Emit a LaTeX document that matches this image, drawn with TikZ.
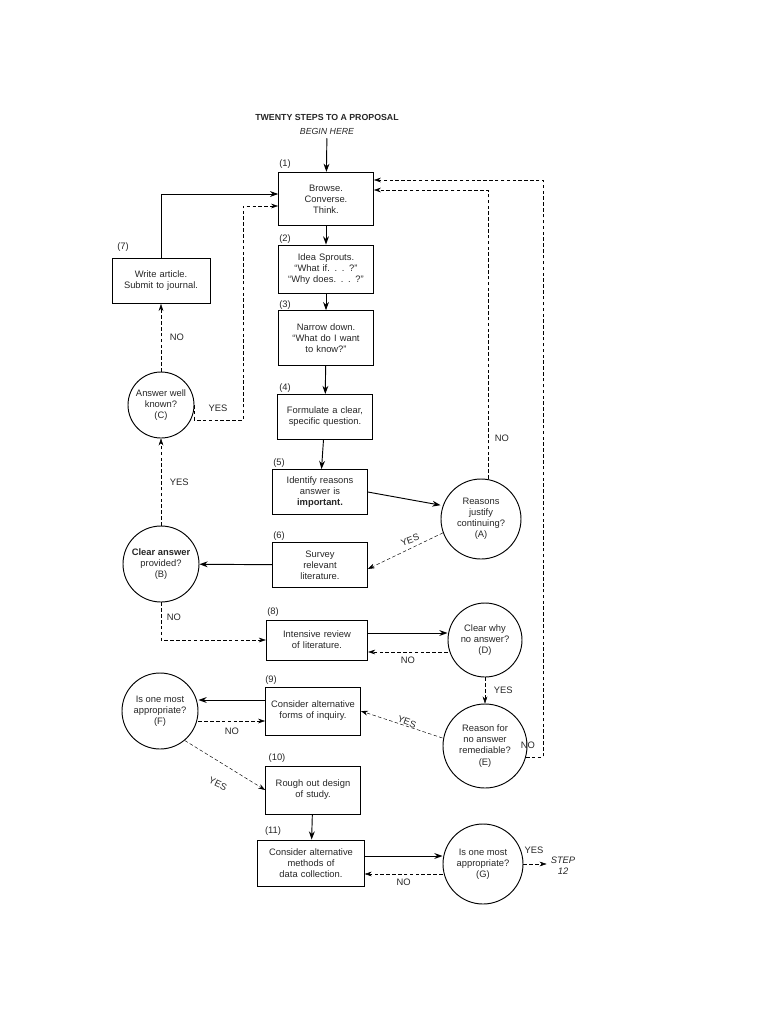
\documentclass[tikz,border=0pt]{standalone}
\usepackage{fontspec}
\setmainfont{Liberation Sans}
\usetikzlibrary{arrows.meta,calc}
\begin{document}
\begin{tikzpicture}[x=0.03cm,y=-0.03cm,
  every node/.style={font=\fontsize{8}{9.5}\selectfont,text=black!85},
  box/.style={draw,thick,align=center,inner sep=2pt},
  circ/.style={draw,thick,circle,align=center,inner sep=0pt},
  lab/.style={font=\fontsize{8}{9.5}\selectfont},
  s/.style={thick,-{Stealth[length=7pt,width=5pt]}},
  d/.style={thin,densely dashed,-{Stealth[length=6pt,width=4pt]}}]
\useasboundingbox (0,0) rectangle (768,1024);
\node[font=\fontsize{7.5}{9}\selectfont\bfseries] (title) at (327,117) {TWENTY STEPS TO A PROPOSAL};
\node[font=\fontsize{7.5}{9}\selectfont\itshape] (begin) at (327,131) {BEGIN HERE};
\node[box,text width=2.7cm,minimum height=1.6cm] (b1) at (326,199) {Browse.\\Converse.\\Think.};
\node[box,text width=2.7cm,minimum height=1.44cm] (b2) at (326,269) {Idea Sprouts.\\``What if. . . ?''\\``Why does. . . ?''};
\node[box,text width=2.7cm,minimum height=1.64cm] (b3) at (326,338) {Narrow down.\\``What do I want\\to know?''};
\node[box,text width=2.7cm,minimum height=1.35cm] (b4) at (325,417) {Formulate a clear,\\specific question.};
\node[box,text width=2.7cm,minimum height=1.35cm] (b5) at (320,492) {Identify reasons\\answer is\\\textbf{important.}};
\node[box,text width=2.7cm,minimum height=1.35cm] (b6) at (320,565) {Survey\\relevant\\literature.};
\node[box,text width=2.9cm,minimum height=1.2cm] (b8) at (317,640) {Intensive review\\of literature.};
\node[box,text width=2.7cm,minimum height=1.44cm] (b9) at (313,711) {Consider alternative\\forms of inquiry.};
\node[box,text width=2.7cm,minimum height=1.44cm] (b10) at (313,790) {Rough out design\\of study.};
\node[box,text width=3.05cm,minimum height=1.38cm] (b11) at (311,863) {Consider alternative\\methods of\\data collection.};
\node[box,text width=2.8cm,minimum height=1.35cm] (b7) at (161,281) {Write article.\\Submit to journal.};
\foreach \n/\x/\y/\t in {l1/285/164/(1),l2/285/239/(2),l3/285/305/(3),l4/285/388/(4),l5/279/463/(5),l6/279/536/(6),l8/273/612/(8),l9/271/680/(9),l10/277/758/(10),l11/273/831/(11),l7/123/247/(7)}
  \node[lab] (\n) at (\x,\y) {\t};
\node[circ,minimum size=66*0.03cm] (C) at (161,405) {Answer well\\known?\\(C)};
\node[circ,minimum size=76*0.03cm] (B) at (161,564) {\textbf{Clear answer}\\provided?\\(B)};
\node[circ,minimum size=80*0.03cm] (A) at (481,519) {Reasons\\justify\\continuing?\\(A)};
\node[circ,minimum size=74*0.03cm] (D) at (485,640) {Clear why\\no answer?\\(D)};
\node[circ,minimum size=84*0.03cm] (E) at (485,746) {Reason for\\no answer\\remediable?\\(E)};
\node[circ,minimum size=76*0.03cm] (F) at (160,711) {Is one most\\appropriate?\\(F)};
\node[circ,minimum size=80*0.03cm] (G) at (483,864) {Is one most\\appropriate?\\(G)};
\node[font=\fontsize{8}{9.5}\selectfont\itshape,align=center] (step) at (563,866) {STEP\\12};
\coordinate (pA) at (488,190); \coordinate (pE) at (543,180);
\coordinate (pC) at (243,206); \coordinate (p7) at (161,194);
% solid flow
\draw[s] (begin) -- (b1);
\draw[s] (b1) -- (b2); \draw[s] (b2) -- (b3); \draw[s] (b3) -- (b4); \draw[s] (b4) -- (b5);
\draw[s] (b5.east) -- (A.west|-A.160);
\draw[s] (b6) -- (B);
\draw[s] (b7.north) |- (b1.west|-p7);
\draw[s] (b8.east|-0,633) -- (D.west|-0,633);
\draw[s] (b9.west|-0,700) -- (F.east|-0,700);
\draw[s] (b10) -- (b11);
\draw[s] (b11.east|-0,856) -- (G.west|-0,856);
% dashed
\draw[d] (A.north-|pA) |- (b1.east|-pA);
\node[lab] (noA) at (502,438) {NO};
\draw[d] (A.200) -- (b6.east|-0,569);
\node[lab,rotate=20] (yesA) at (410,540) {YES};
\draw[d] (B) -- (C) node[midway,right,xshift=4pt] (yesB) {YES};
\draw[d] (C) -- (b7) node[midway,right,xshift=4pt] (noC) {NO};
\draw[d] (C.east) -- ++(0,15) -| (pC) -- (b1.west|-pC);
\node[lab] (yesC) at (218,408) {YES};
\draw[d] (B.south) |- (b8.west);
\node[lab] (noB) at (174,617) {NO};
\draw[d] (D.west|-0,652) -- (b8.east|-0,652) node[midway,below,yshift=-1pt] (noD) {NO};
\draw[d] (D) -- (E) node[midway,right,xshift=4pt] (yesD) {YES};
\draw[d] (E.west) ++(0,-8) -- (b9.east);
\node[lab,rotate=-20] (yesE) at (407,722) {YES};
\draw[d] (E.-15) -- (pE|-E.-15) -- (pE) -- (b1.east|-pE);
\node[lab] (noE) at (528,745) {NO};
\draw[d] (F.east|-0,721) -- (b9.west|-0,721) node[midway,below,yshift=-2pt] (noF) {NO};
\draw[d] (F.-50) -- (b10.west);
\node[lab,rotate=-25] (yesF) at (218,784) {YES};
\draw[d] (G.west|-0,874) -- (b11.east|-0,874) node[midway,below,yshift=-1pt] (noG) {NO};
\draw[d] (G.east) -- (step.west|-G.east);
\node[lab] (yesG) at (534,850) {YES};
\end{tikzpicture}
\end{document}
